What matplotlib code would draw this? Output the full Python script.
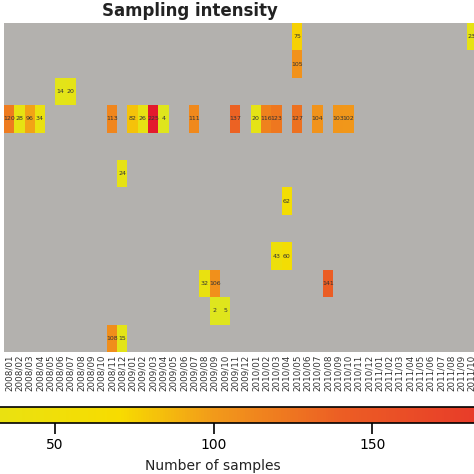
import numpy as np
import matplotlib
matplotlib.use("Agg")
import matplotlib.pyplot as plt
from matplotlib.colors import LinearSegmentedColormap

# months on the x axis
months = [f"{y}/{m:02d}" for y in range(2008, 2012) for m in range(1, 13)][:46]
n_rows = 12

# (row, month index, number of samples)
cell_rows = [0, 0, 1, 2, 2,
             3, 3, 3, 3, 3, 3, 3, 3, 3, 3, 3, 3, 3, 3, 3, 3, 3, 3,
             5, 6, 8, 8, 9, 9, 9, 10, 10, 11, 11]
cell_cols = [28, 45, 28, 5, 6,
             0, 1, 2, 3, 10, 12, 13, 14, 15, 18, 22, 24, 25, 26, 28, 30, 32, 33,
             11, 27, 26, 27, 19, 20, 31, 20, 21, 10, 11]
cell_vals = [75, 23, 105, 14, 20,
             120, 28, 96, 34, 113, 82, 26, 225, 4, 111, 137, 20, 116, 123, 127, 104, 103, 102,
             24, 62, 43, 60, 32, 106, 141, 2, 5, 108, 15]

grid = np.full((n_rows, len(months)), np.nan)
for r, c, v in zip(cell_rows, cell_cols, cell_vals):
    grid[r, c] = v

vmin, vmax = 2, 225
nodes = [(2, "#dfe61e"), (70, "#f7dc00"), (100, "#f29a1a"), (140, "#ec5e24"), (225, "#e31a2e")]
cmap = LinearSegmentedColormap.from_list(
    "heat", [((v - vmin) / (vmax - vmin), c) for v, c in nodes])
cmap.set_bad("#b3b1ae")

W = H = 474
fig = plt.figure(figsize=(4.74, 4.74), dpi=100)
ax = fig.add_axes([4 / W, 1 - 352 / H, 473 / W, 329 / H])
ax.set_facecolor("#b3b1ae")
im = ax.imshow(np.ma.masked_invalid(grid), cmap=cmap, vmin=vmin, vmax=vmax,
               aspect="auto", interpolation="nearest")
for r, c, v in zip(cell_rows, cell_cols, cell_vals):
    ax.text(c, r, str(v), ha="center", va="center", fontsize=4.5, color="#333333")
ax.set_xticks(range(len(months)))
ax.set_xticklabels(months, rotation=90, fontsize=6.3, color="#333333")
ax.set_yticks([])
ax.tick_params(axis="x", length=0, pad=2)
for s in ax.spines.values():
    s.set_visible(False)

fig.text(190 / W, 1 - 11 / H, "Sampling intensity", ha="center", va="center",
         fontsize=12, fontweight="bold", color="#222222")

cax = fig.add_axes([-97 / W, 1 - 423 / H, 707 / W, 16 / H])
cb = fig.colorbar(im, cax=cax, orientation="horizontal")
cb.set_ticks([50, 100, 150])
cax.tick_params(length=8, width=1.2, labelsize=10, pad=3)
cb.outline.set_linewidth(1.2)

fig.text(213 / W, 1 - 466 / H, "Number of samples", ha="center", va="center",
         fontsize=10, color="#222222")

fig.savefig("out.png", dpi=100)
